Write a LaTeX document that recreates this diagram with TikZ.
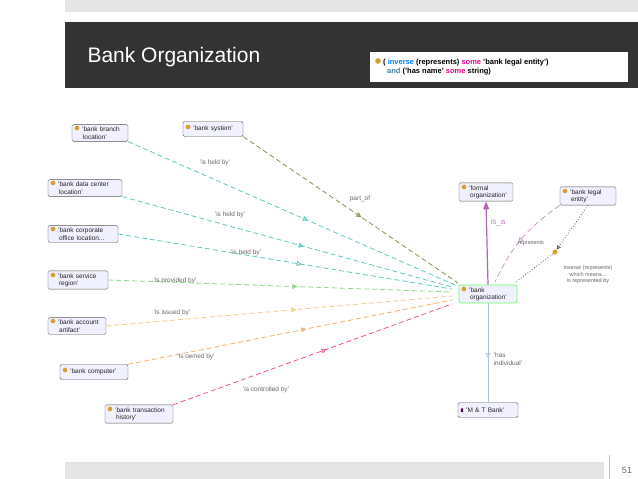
\documentclass[tikz,border=0pt]{standalone}
\usepackage{fontspec}
\setmainfont{Liberation Sans}
\usetikzlibrary{arrows.meta,decorations.markings}
\definecolor{teal1}{HTML}{5CC8C0}
\definecolor{grn1}{HTML}{8ED48A}
\definecolor{org1}{HTML}{F2C98A}
\definecolor{org2}{HTML}{F5B060}
\definecolor{pnk}{HTML}{F0508A}
\definecolor{olv}{HTML}{7A9A4A}
\definecolor{dot}{HTML}{D4A030}
\tikzset{
 cls/.style={draw=gray!70!black,fill=blue!6,rounded corners=1.5pt,font=\fontsize{6.5}{7.5}\selectfont,align=left,inner sep=2pt,minimum height=15pt,text=black!85},
 midarr/.style={postaction={decorate},decoration={markings,mark=at position 0.55 with {\arrow[fill=white,solid]{Triangle[open,length=5pt,width=5pt]}}}},
 rel/.style={dashed,line width=0.8pt,dash pattern=on 5pt off 3pt,midarr},
 lab/.style={font=\fontsize{6.5}{7.5}\selectfont,text=black!60},
 ball/.style={circle,fill=dot,inner sep=2.2pt}
}
\newcommand{\dia}{\tikz[baseline=-2pt]\fill[violet!60!black] (0,-3pt)--(2pt,0)--(0,3pt)--(-2pt,0)--cycle;}
\begin{document}
\begin{tikzpicture}[x=1pt,y=-1pt]
\useasboundingbox (0,0) rectangle (638,479);
\fill[gray!20] (65,0) rectangle (638,12);
\fill[black!80] (65,22) rectangle (638,88);
\node[anchor=west,text=white,font=\fontsize{21}{24}\selectfont] (title) at (84,57) {Bank Organization};
\fill[white] (370,52) rectangle (628,82);
\node[ball,inner sep=2pt] (fb) at (378,61) {};
\node[anchor=west,font=\fontsize{7.5}{9}\selectfont\bfseries,align=left,inner sep=0pt] (form) at (383,67) {( \textcolor{blue!50!cyan}{inverse} (represents) \textcolor{magenta}{some} 'bank legal entity')\\ \hspace{4pt}\textcolor{cyan!60!black}{and} ('has name' \textcolor{magenta}{some} string)};
\fill[gray!20] (65,462) rectangle (604,479);
\draw[gray!50] (609,455) -- (609,479);
\node[lab,font=\fontsize{9}{10}\selectfont] (pg) at (627,470) {51};

\node[cls,text width=52pt] (br) at (100,133) {\textcolor{dot}{\large$\bullet$} 'bank branch\\ \hspace{9pt}location'};
\node[cls,text width=56pt] (sys) at (213,129) {\textcolor{dot}{\large$\bullet$} 'bank system'};
\node[cls,text width=70pt] (dc) at (85,188) {\textcolor{dot}{\large$\bullet$} 'bank data center\\ \hspace{9pt}location'};
\node[cls,text width=66pt] (co) at (83,234) {\textcolor{dot}{\large$\bullet$} 'bank corporate\\ \hspace{9pt}office location...};
\node[cls,text width=56pt] (sr) at (78,280) {\textcolor{dot}{\large$\bullet$} 'bank service\\ \hspace{9pt}region'};
\node[cls,text width=54pt] (aa) at (77,326) {\textcolor{dot}{\large$\bullet$} 'bank account\\ \hspace{9pt}artifact'};
\node[cls,text width=64pt] (cp) at (94,372) {\textcolor{dot}{\large$\bullet$} 'bank computer'};
\node[cls,text width=64pt] (th) at (139,414) {\textcolor{dot}{\large$\bullet$} 'bank transaction\\ \hspace{9pt}history'};
\node[cls,text width=50pt] (fo) at (486,192) {\textcolor{dot}{\large$\bullet$} 'formal\\ \hspace{9pt}organization'};
\node[cls,text width=52pt] (le) at (588,196) {\textcolor{dot}{\large$\bullet$} 'bank legal\\ \hspace{9pt}entity'};
\node[cls,draw=green!60,text width=54pt,line width=0.8pt] (bo) at (488,294) {\textcolor{dot}{\large$\bullet$} 'bank\\ \hspace{9pt}organization'};
\node[cls,text width=56pt] (mt) at (488,410) {\dia\ 'M \& T Bank'};

\coordinate (t1) at (455,285);
\draw[rel,teal1] (br.south east) -- (t1);
\draw[rel,olv] (sys.south east) -- (458,283);
\draw[rel,teal1] (dc.south east) -- (452,287);
\draw[rel,teal1] (co.east) -- (452,289);
\draw[rel,grn1] (sr.east) -- (452,292);
\draw[rel,org1] (aa.east) -- (452,296);
\draw[rel,org2] (cp.north east) -- (452,300);
\draw[rel,pnk] (th.north east) -- (452,304);
\node[lab] (l1) at (215,163) {'is held by'};
\node[lab] (l2) at (230,215) {'is held by'};
\node[lab] (l3) at (246,253) {'is held by'};
\node[lab] (l4) at (175,281) {'is provided by'};
\node[lab] (l5) at (172,313) {'is issued by'};
\node[lab] (l6) at (196,357) {'is owned by'};
\node[lab] (l7) at (266,390) {'is controlled by'};
\node[lab] (l8) at (360,199) {part\_of};

\draw[violet!60,line width=1.2pt,-{Triangle[length=8pt,width=6pt]}] (bo.north) -- (fo.south);
\node[lab,text=violet!50,font=\fontsize{8}{9}\selectfont] (isa) at (498,222) {is\_a};
\draw[violet!40,rel,dash pattern=on 6pt off 3pt] (le.south west) to[bend right=15] (495,282);
\node[lab,font=\fontsize{5.5}{6.5}\selectfont] (rep) at (531,243) {represents};
\node[ball,draw=white,inner sep=2pt] (inv) at (555,252) {};
\draw[dotted,thick,gray!70!black,-{Triangle[open,length=4pt,width=4pt]}] (le.south) -- (inv);
\draw[dotted,thick,gray!70!black] (inv) -- (516,282);
\node[lab,font=\fontsize{5.5}{6.5}\selectfont,align=center] (invt) at (588,275) {inverse (represents)\\ which means...\\ is represented by};
\draw[cyan!30!gray!60,line width=0.8pt,midarr] (bo.south) -- (mt.north);
\node[lab,align=left] (hi) at (508,359) {'has\\individual'};
\end{tikzpicture}
\end{document}
